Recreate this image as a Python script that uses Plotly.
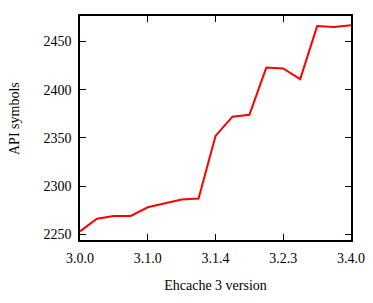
import plotly.graph_objects as go

versions_idx = list(range(17))
api_symbols = [2253, 2266, 2269, 2269, 2278, 2282, 2286, 2287, 2352, 2372, 2374, 2423, 2422, 2411, 2466, 2465, 2467]
tick_pos = [0, 4, 8, 12, 16]
tick_labels = ["3.0.0", "3.1.0", "3.1.4", "3.2.3", "3.4.0"]
y_ticks = [2250, 2300, 2350, 2400, 2450]

FONT = "'Liberation Serif', 'Times New Roman', serif"

fig = go.Figure()
fig.add_trace(go.Scatter(x=versions_idx, y=api_symbols, mode="lines",
                         line=dict(color="#ff0000", width=2), showlegend=False))

axis_common = dict(showline=True, linecolor="black", linewidth=1.5, mirror="ticks",
                   ticks="inside", ticklen=6, tickcolor="black", tickwidth=1,
                   showgrid=False, zeroline=False, automargin=False,
                   tickfont=dict(family=FONT, size=14, color="black"))

fig.update_layout(
    width=373, height=303,
    margin=dict(l=80, r=22, t=16, b=63),
    paper_bgcolor="white", plot_bgcolor="white",
    font=dict(family=FONT, size=14, color="black"),
    xaxis=dict(range=[0, 16], tickvals=tick_pos, ticktext=tick_labels,
               ticklabelstandoff=4,
               title=dict(text="Ehcache 3 version", standoff=16,
                          font=dict(family=FONT, size=14)),
               **axis_common),
    yaxis=dict(range=[2244, 2476.5], tickvals=y_ticks,
               ticklabelstandoff=4,
               **axis_common),
    annotations=[dict(text="API symbols", textangle=-90, showarrow=False,
                      xref="paper", yref="paper",
                      x=(14 - 80) / 271, y=(240 - 119) / 224,
                      xanchor="center", yanchor="middle",
                      font=dict(family=FONT, size=14, color="black"))],
)

fig.write_html("out.html")
